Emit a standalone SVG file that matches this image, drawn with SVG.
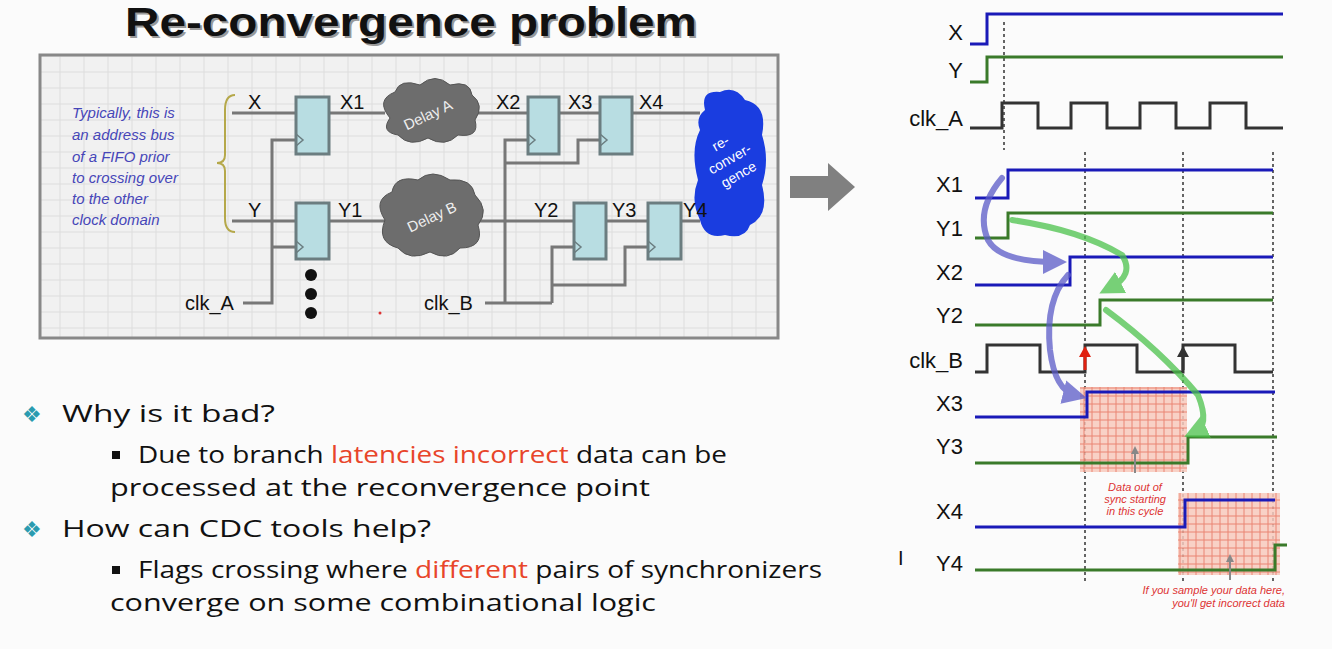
<svg xmlns="http://www.w3.org/2000/svg" width="1332" height="649" viewBox="0 0 1332 649">
<defs>
<style>
.w{stroke:#777;stroke-width:3;fill:none}
.ff{fill:#b8dde2;stroke:#6b7d80;stroke-width:3}
.lb{font-family:"Liberation Sans",Arial,sans-serif;font-size:20px;fill:#111}
.tl{font-family:"Liberation Sans",Arial,sans-serif;font-size:22px;fill:#111;text-anchor:end}
.note{font-family:"Liberation Sans",Arial,sans-serif;font-size:15px;font-style:italic;fill:#4646b8}
.bt{font-family:"Open Sans","Liberation Sans",sans-serif;font-size:24px;fill:#111}
.red{fill:#e8452a}
.sb{stroke:#1a1ab8;stroke-width:3;fill:none}
.sg{stroke:#3a7a2a;stroke-width:3;fill:none}
.sk{stroke:#333;stroke-width:3;fill:none}
.dot{stroke:#333;stroke-width:1.5;stroke-dasharray:3 3;fill:none}
.rt{font-family:"Liberation Sans",Arial,sans-serif;font-size:11px;font-style:italic;fill:#d33}
</style>
<pattern id="hatch" width="8" height="8" patternUnits="userSpaceOnUse">
<rect width="8" height="8" fill="#f7c9bd"/>
<path d="M0 4H8M4 0V8" stroke="#e8705a" stroke-width="1"/>
</pattern>
<pattern id="grid" width="24" height="16" patternUnits="userSpaceOnUse">
<rect width="24" height="16" fill="#f1f1f1"/>
<path d="M0 8H24M12 0V16" stroke="#dedede" stroke-width="1"/>
</pattern>
<marker id="ab" markerWidth="4" markerHeight="4" refX="2" refY="2" orient="auto"><path d="M0,0L4,2L0,4z" fill="#5a5ac8"/></marker>
<marker id="ag" markerWidth="4" markerHeight="4" refX="2" refY="2" orient="auto"><path d="M0,0L4,2L0,4z" fill="#4cc24c"/></marker>
</defs>
<rect width="1332" height="649" fill="#fbfbfb"/>
<text x="125" y="36" textLength="572" lengthAdjust="spacingAndGlyphs" font-family="Liberation Sans,Arial,sans-serif" font-size="40" font-weight="bold" fill="#999" transform="translate(2,2)">Re-convergence problem</text>
<text x="125" y="36" textLength="572" lengthAdjust="spacingAndGlyphs" font-family="Liberation Sans,Arial,sans-serif" font-size="40" font-weight="bold" fill="#111">Re-convergence problem</text>

<g id="circuit">
<rect x="40" y="55" width="738" height="283" fill="url(#grid)" stroke="#888" stroke-width="3"/>
<g id="connectors">
<path class="w" d="M232 113H296M232 221H296M329 113H385M329 221H385M476 113H528M559 113H600M632 113H700M476 221H574M606 221H648M681 221H700"/>
<path class="w" d="M243 303H272V140H296M272 247H296"/>
<path class="w" d="M485 303H552M505 303V140H528M505 163H578V140H600M552 303V247H574M552 285H625V247H648"/>
</g>
<path d="M235 95Q225 95 225 110V155Q225 163 217 163Q225 163 225 171V218Q225 232 235 232" stroke="#b5a84a" stroke-width="2" fill="none"/>
<g class="note"><text x="72" y="118">Typically, this is</text><text x="72" y="140">an address bus</text><text x="72" y="162">of a FIFO prior</text><text x="72" y="183">to crossing over</text><text x="72" y="204">to the other</text><text x="72" y="225">clock domain</text></g>
<g id="ff1"><rect class="ff" x="296" y="97" width="33" height="57"/><path d="M296 134L303 140L296 146" stroke="#6b7d80" stroke-width="1.5" fill="none"/></g>
<g id="ff2"><rect class="ff" x="296" y="203" width="33" height="56"/><path d="M296 241L303 247L296 253" stroke="#6b7d80" stroke-width="1.5" fill="none"/></g>
<g id="ff3"><rect class="ff" x="528" y="97" width="31" height="57"/><path d="M528 134L535 140L528 146" stroke="#6b7d80" stroke-width="1.5" fill="none"/></g>
<g id="ff4"><rect class="ff" x="600" y="97" width="32" height="57"/><path d="M600 134L607 140L600 146" stroke="#6b7d80" stroke-width="1.5" fill="none"/></g>
<g id="ff5"><rect class="ff" x="574" y="203" width="32" height="56"/><path d="M574 241L581 247L574 253" stroke="#6b7d80" stroke-width="1.5" fill="none"/></g>
<g id="ff6"><rect class="ff" x="648" y="203" width="33" height="56"/><path d="M648 241L655 247L648 253" stroke="#6b7d80" stroke-width="1.5" fill="none"/></g>
<g id="delayA"><path d="M390 118Q375 100 395 92Q400 78 420 85Q435 72 450 85Q470 80 472 95Q485 105 475 120Q480 138 458 135Q445 148 428 138Q410 148 398 135Q380 132 390 118z" fill="#6d6d6d" stroke="#555"/><text x="428" y="120" transform="rotate(-25 428 115)" text-anchor="middle" font-family="Liberation Sans,Arial,sans-serif" font-size="15" fill="#eee">Delay A</text></g>
<g id="delayB"><path d="M385 220Q372 200 392 192Q395 175 418 180Q432 168 450 180Q472 178 475 195Q490 210 478 225Q485 248 460 248Q448 262 430 252Q410 262 398 248Q376 242 385 220z" fill="#6d6d6d" stroke="#555"/><text x="432" y="222" transform="rotate(-25 432 217)" text-anchor="middle" font-family="Liberation Sans,Arial,sans-serif" font-size="15" fill="#eee">Delay B</text></g>
<g id="reconv"><path d="M705 110Q700 90 720 92Q735 85 745 100Q768 105 762 135Q770 160 762 185Q770 215 750 225Q745 240 725 235Q705 240 700 220Q690 200 698 180Q690 150 700 130Q695 118 705 110z" fill="#1a3de0"/><g transform="rotate(-30 732 163)" font-family="Liberation Sans,Arial,sans-serif" font-size="14" fill="#fff" text-anchor="middle"><text x="732" y="145">re-</text><text x="732" y="163">conver-</text><text x="732" y="181">gence</text></g></g>
<g class="lb"><text x="248" y="109">X</text><text x="340" y="109">X1</text><text x="496" y="109">X2</text><text x="568" y="109">X3</text><text x="639" y="109">X4</text><text x="248" y="217">Y</text><text x="338" y="217">Y1</text><text x="534" y="217">Y2</text><text x="612" y="217">Y3</text><text x="683" y="217">Y4</text><text x="185" y="310">clk_A</text><text x="424" y="310">clk_B</text></g>
<circle cx="311" cy="275" r="6" fill="#111"/><circle cx="311" cy="294" r="6" fill="#111"/><circle cx="311" cy="313" r="6" fill="#111"/>
<circle cx="380" cy="313" r="1.5" fill="#d33"/>
</g>

<path id="bigarrow" d="M790 176H828V163L855 187L828 211V198H790z" fill="#808080"/>

<g id="bullets">
<text x="22" y="422" font-family="DejaVu Sans,sans-serif" font-size="22" fill="#2a9bb0">❖</text>
<text class="bt" x="62" y="422" font-size="27" textLength="213" lengthAdjust="spacingAndGlyphs">Why is it bad?</text>
<rect x="112" y="451" width="8" height="8" fill="#111"/>
<text class="bt" x="138" y="463" textLength="589" lengthAdjust="spacingAndGlyphs">Due to branch <tspan class="red">latencies incorrect</tspan> data can be</text>
<text class="bt" x="110" y="496" textLength="540" lengthAdjust="spacingAndGlyphs">processed at the reconvergence point</text>
<text x="22" y="537" font-family="DejaVu Sans,sans-serif" font-size="22" fill="#2a9bb0">❖</text>
<text class="bt" x="62" y="537" font-size="27" textLength="369" lengthAdjust="spacingAndGlyphs">How can CDC tools help?</text>
<rect x="112" y="566" width="8" height="8" fill="#111"/>
<text class="bt" x="138" y="578" textLength="684" lengthAdjust="spacingAndGlyphs">Flags crossing where <tspan class="red">different</tspan> pairs of synchronizers</text>
<text class="bt" x="110" y="611" textLength="546" lengthAdjust="spacingAndGlyphs">converge on some combinational logic</text>
</g>

<g id="timing">
<g class="tl"><text x="963" y="40">X</text><text x="963" y="78">Y</text><text x="963" y="126">clk_A</text><text x="963" y="192">X1</text><text x="963" y="236">Y1</text><text x="963" y="280">X2</text><text x="963" y="323">Y2</text><text x="963" y="368">clk_B</text><text x="963" y="411">X3</text><text x="963" y="454">Y3</text><text x="963" y="519">X4</text><text x="963" y="571">Y4</text></g>
<text x="898" y="565" font-family="Liberation Sans,sans-serif" font-size="20" fill="#111">I</text>
<path class="dot" d="M1004 22V150M1085 152V582M1183 152V582M1273 152V582"/>
<rect x="1080" y="387" width="107" height="85" fill="url(#hatch)" opacity="0.85"/>
<rect x="1178" y="493" width="102" height="82" fill="url(#hatch)" opacity="0.85"/>
<path class="sb" d="M970 44H987V14H1283"/>
<path class="sg" d="M970 82H987V57H1283"/>
<path class="sk" d="M970 128H1002V103H1038V128H1071V103H1107V128H1140V103H1176V128H1210V103H1246V128H1283"/>
<path class="sb" d="M975 198H1008V170H1273"/>
<path class="sg" d="M975 238H1008V213H1273"/>
<path class="sb" stroke-width="4" d="M975 285H1070V257H1273"/>
<path class="sg" d="M975 325H1100V300H1273"/>
<path class="sk" d="M975 372H987V345H1040V372H1085V345H1137V372H1183V345H1235V372H1273"/>
<path class="sb" stroke-width="4" d="M975 417H1087V392H1275"/>
<path class="sg" stroke-width="4" d="M975 463H1188V437H1277"/>
<path class="sb" stroke-width="4" d="M975 527H1185V500H1275"/>
<path class="sg" stroke-width="4" d="M975 570H1275V545H1287"/>
<path d="M1085 370V355" stroke="#e02010" stroke-width="3"/><path d="M1079 357L1085 346L1091 357z" fill="#e02010"/>
<path d="M1183 370V355" stroke="#333" stroke-width="3"/><path d="M1177 357L1183 346L1189 357z" fill="#333"/>
<path d="M1135 473V452" stroke="#888" stroke-width="2"/><path d="M1131 454L1135 446L1139 454z" fill="#888"/>
<path d="M1230 580V560" stroke="#888" stroke-width="2"/><path d="M1226 562L1230 554L1234 562z" fill="#888"/>
<g stroke-width="6" fill="none" opacity="0.75" stroke-linecap="round">
<path d="M1002 178Q975 210 988 240Q1000 262 1055 262" stroke="#5a5ac8" marker-end="url(#ab)"/>
<path d="M1068 275Q1045 300 1050 350Q1055 390 1075 395" stroke="#5a5ac8" marker-end="url(#ab)"/>
<path d="M1012 220Q1080 230 1122 255Q1135 275 1110 288" stroke="#4cc24c" marker-end="url(#ag)"/>
<path d="M1106 310Q1160 350 1198 395Q1210 425 1195 432" stroke="#4cc24c" marker-end="url(#ag)"/>
</g>
<g class="rt" text-anchor="middle"><text x="1135" y="491">Data out of</text><text x="1135" y="503">sync starting</text><text x="1135" y="515">in this cycle</text></g>
<g class="rt" text-anchor="end"><text x="1285" y="594">If you sample your data here,</text><text x="1285" y="607">you'll get incorrect data</text></g>
</g>
</svg>
